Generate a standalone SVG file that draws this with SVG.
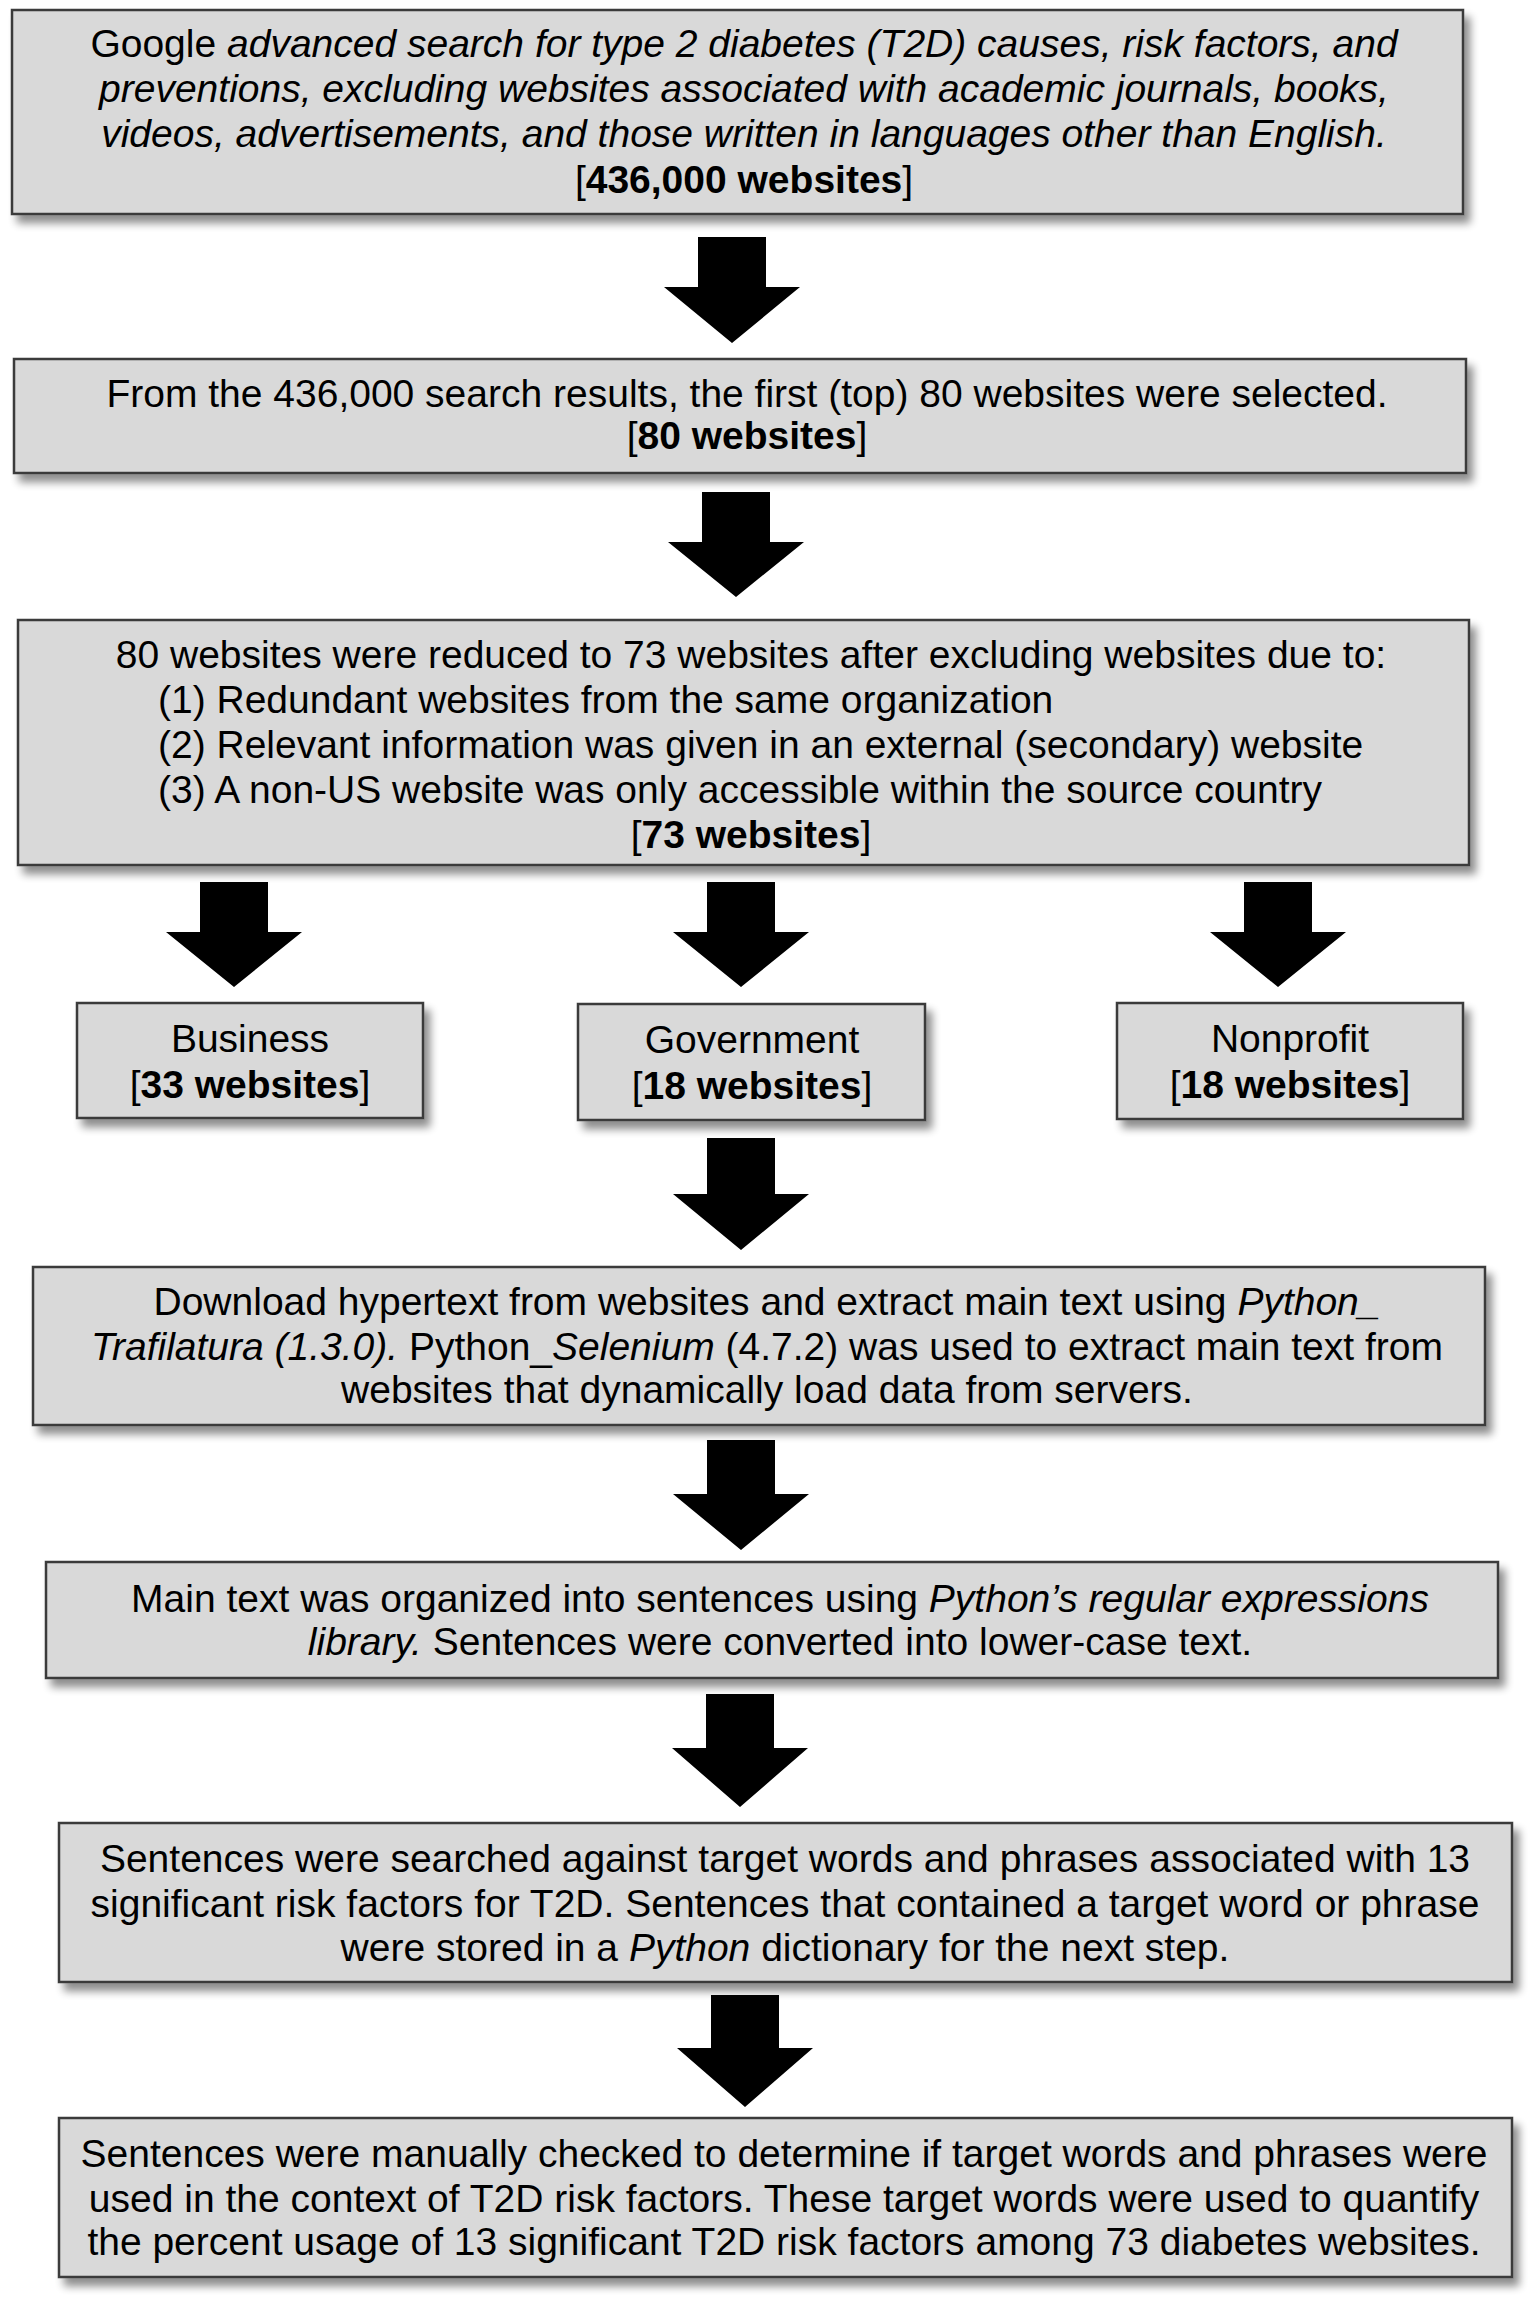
<svg xmlns="http://www.w3.org/2000/svg" width="1535" height="2300" viewBox="0 0 1535 2300">
<defs>
<filter id="sh" x="-5%" y="-10%" width="115%" height="130%">
<feGaussianBlur in="SourceAlpha" stdDeviation="4"/>
<feOffset dx="6" dy="8" result="b"/>
<feComponentTransfer><feFuncA type="linear" slope="0.45"/></feComponentTransfer>
<feMerge><feMergeNode/><feMergeNode in="SourceGraphic"/></feMerge>
</filter>
</defs>
<style>
.box{fill:#d9d9d9;stroke:#3a3a3a;stroke-width:2.5;filter:url(#sh)}
text{font-family:"Liberation Sans",Arial,sans-serif;font-size:39px;fill:#000}
.c{text-anchor:middle}
.i{font-style:italic}
.b{font-weight:bold}
.arr{fill:#000}
</style>
<rect width="1535" height="2300" fill="#fff"/>

<g id="connectors">
<polygon class="arr" points="698,237 766,237 766,287 800,287 732,343 664,287 698,287"/>
<polygon class="arr" points="702,492 770,492 770,542 804,542 736,597 668,542 702,542"/>
<polygon class="arr" points="200,882 268,882 268,932 302,932 234,987 166,932 200,932"/>
<polygon class="arr" points="707,882 775,882 775,932 809,932 741,987 673,932 707,932"/>
<polygon class="arr" points="1244,882 1312,882 1312,932 1346,932 1278,987 1210,932 1244,932"/>
<polygon class="arr" points="707,1138 775,1138 775,1194 809,1194 741,1250 673,1194 707,1194"/>
<polygon class="arr" points="707,1440 775,1440 775,1494 809,1494 741,1550 673,1494 707,1494"/>
<polygon class="arr" points="706,1694 774,1694 774,1748 808,1748 740,1807 672,1748 706,1748"/>
<polygon class="arr" points="711,1995 779,1995 779,2048 813,2048 745,2107 677,2048 711,2048"/>
</g>

<g id="n1">
<rect class="box" x="12" y="10" width="1451" height="204"/>
<text class="c" x="744" y="57">Google <tspan class="i">advanced search for type 2 diabetes (T2D) causes, risk factors, and</tspan></text>
<text class="c i" x="744" y="102">preventions, excluding websites associated with academic journals, books,</text>
<text class="c i" x="744" y="147">videos, advertisements, and those written in languages other than English.</text>
<text class="c" x="744" y="193">[<tspan class="b">436,000 websites</tspan>]</text>
</g>

<g id="n2">
<rect class="box" x="14" y="359" width="1452" height="114"/>
<text class="c" x="747" y="407">From the 436,000 search results, the first (top) 80 websites were selected.</text>
<text class="c" x="747" y="449">[<tspan class="b">80 websites</tspan>]</text>
</g>

<g id="n3">
<rect class="box" x="18" y="620" width="1451" height="245"/>
<text class="c" x="751" y="668">80 websites were reduced to 73 websites after excluding websites due to:</text>
<text x="158" y="713">(1) Redundant websites from the same organization</text>
<text x="158" y="758">(2) Relevant information was given in an external (secondary) website</text>
<text x="158" y="803">(3) A non-US website was only accessible within the source country</text>
<text class="c" x="751" y="848">[<tspan class="b">73 websites</tspan>]</text>
</g>

<g id="n4">
<rect class="box" x="77" y="1003" width="346" height="115"/>
<text class="c" x="250" y="1052">Business</text>
<text class="c" x="250" y="1098">[<tspan class="b">33 websites</tspan>]</text>
</g>

<g id="n5">
<rect class="box" x="578" y="1004" width="347" height="116"/>
<text class="c" x="752" y="1053">Government</text>
<text class="c" x="752" y="1099">[<tspan class="b">18 websites</tspan>]</text>
</g>

<g id="n6">
<rect class="box" x="1117" y="1003" width="346" height="116"/>
<text class="c" x="1290" y="1052">Nonprofit</text>
<text class="c" x="1290" y="1098">[<tspan class="b">18 websites</tspan>]</text>
</g>

<g id="n7">
<rect class="box" x="33" y="1267" width="1452" height="158"/>
<text class="c" x="767" y="1315">Download hypertext from websites and extract main text using <tspan class="i">Python_</tspan></text>
<text class="c" x="767" y="1360"><tspan class="i">Trafilatura (1.3.0).</tspan> Python_<tspan class="i">Selenium</tspan> (4.7.2) was used to extract main text from</text>
<text class="c" x="767" y="1403">websites that dynamically load data from servers.</text>
</g>

<g id="n8">
<rect class="box" x="46" y="1562" width="1452" height="116"/>
<text class="c" x="780" y="1612">Main text was organized into sentences using <tspan class="i">Python’s regular expressions</tspan></text>
<text class="c" x="780" y="1655"><tspan class="i">library.</tspan> Sentences were converted into lower-case text.</text>
</g>

<g id="n9">
<rect class="box" x="59" y="1823" width="1453" height="159"/>
<text class="c" x="785" y="1872">Sentences were searched against target words and phrases associated with 13</text>
<text class="c" x="785" y="1917">significant risk factors for T2D. Sentences that contained a target word or phrase</text>
<text class="c" x="785" y="1961">were stored in a <tspan class="i">Python</tspan> dictionary for the next step.</text>
</g>

<g id="n10">
<rect class="box" x="59" y="2118" width="1453" height="159"/>
<text class="c" x="784" y="2167">Sentences were manually checked to determine if target words and phrases were</text>
<text class="c" x="784" y="2212">used in the context of T2D risk factors. These target words were used to quantify</text>
<text class="c" x="784" y="2255">the percent usage of 13 significant T2D risk factors among 73 diabetes websites.</text>
</g>
</svg>
